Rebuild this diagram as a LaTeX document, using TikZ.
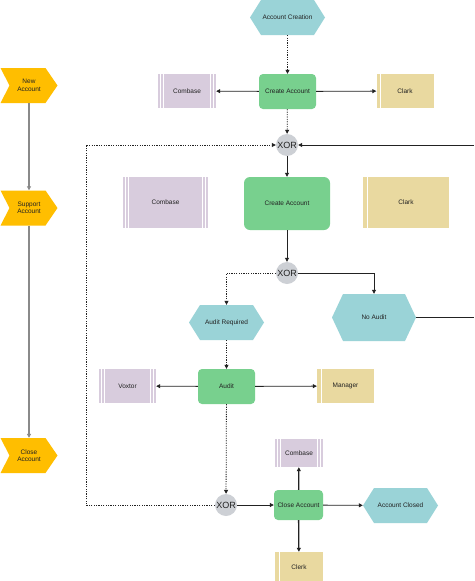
\documentclass[tikz,border=0pt]{standalone}
\usepackage{fontspec}
\setmainfont{Liberation Sans}
\usetikzlibrary{positioning,arrows.meta}

\definecolor{evcol}{HTML}{9AD3D7}
\definecolor{fncol}{HTML}{78D08E}
\definecolor{syscol}{HTML}{D8CCDD}
\definecolor{orgcol}{HTML}{E9D9A0}
\definecolor{pathcol}{HTML}{FFBE00}
\definecolor{xorcol}{HTML}{CDD0D5}
\definecolor{linecol}{HTML}{222222}
\definecolor{lanecol}{HTML}{8A8A8A}

\tikzset{
  every node/.style={font=\fontsize{6.5}{7.5}\selectfont, inner sep=0pt, align=center, text=linecol},
  event/.style={minimum width=75pt, minimum height=35pt, path picture={
      \fill[evcol] (path picture bounding box.west)
        -- ([xshift=11pt]path picture bounding box.north west)
        -- ([xshift=-11pt]path picture bounding box.north east)
        -- (path picture bounding box.east)
        -- ([xshift=-11pt]path picture bounding box.south east)
        -- ([xshift=11pt]path picture bounding box.south west) -- cycle;}},
  function/.style={fill=fncol, rounded corners=4pt, minimum width=57pt, minimum height=35pt},
  sysbox/.style={fill=syscol, minimum width=58pt, minimum height=34pt, path picture={
      \foreach \dx in {2.5pt,5.5pt}{
        \draw[white, line width=0.6pt] ([xshift=\dx]path picture bounding box.north west)
          -- ([xshift=\dx]path picture bounding box.south west);
        \draw[white, line width=0.6pt] ([xshift=-\dx]path picture bounding box.north east)
          -- ([xshift=-\dx]path picture bounding box.south east);}}},
  orgbox/.style={fill=orgcol, minimum width=57pt, minimum height=34pt, path picture={
      \draw[white, line width=0.8pt] ([xshift=4pt]path picture bounding box.north west)
        -- ([xshift=4pt]path picture bounding box.south west);}},
  pathbox/.style={minimum width=57pt, minimum height=35pt, path picture={
      \fill[pathcol] (path picture bounding box.north west)
        -- ([xshift=-12pt]path picture bounding box.north east)
        -- (path picture bounding box.east)
        -- ([xshift=-12pt]path picture bounding box.south east)
        -- (path picture bounding box.south west)
        -- ([xshift=9pt]path picture bounding box.west) -- cycle;}},
  xor/.style={circle, fill=xorcol, minimum size=22pt, font=\fontsize{9}{10}\selectfont},
  flow/.style={draw=linecol, line width=0.8pt, -{Triangle[length=4pt,width=4pt]}},
  ctrl/.style={flow, dash pattern=on 1.2pt off 1.2pt},
  lane/.style={draw=lanecol, line width=1.3pt, -{Triangle[length=4pt,width=4pt,fill=linecol]}}
}

\begin{document}
\begin{tikzpicture}[x=1pt, y=-1pt]
  \useasboundingbox[fill=white] (0,0) rectangle (474,581);

  \node[pathbox] (newacc) at (29,85.5) {New\\Account};
  \node[pathbox] (supacc) at (29,208) {Support\\Account};
  \node[pathbox] (cloacc) at (29,455.5) {Close\\Account};

  \node[event] (accreat) at (287.5,17.5) {Account Creation};
  \node[function] (create1) at (287.5,91.5) {Create Account};
  \node[sysbox] (combase1) at (187,91) {Combase};
  \node[orgbox] (clark1) at (405,91) {Clark};
  \node[xor] (xor1) at (287,145) {XOR};

  \node[sysbox, minimum width=85pt, minimum height=51pt] (combase2) at (165.5,202.5) {Combase};
  \node[function, minimum width=86pt, minimum height=53pt, rounded corners=6pt] (create2) at (287,203.5) {Create Account};
  \node[orgbox, minimum width=86pt, minimum height=51pt] (clark2) at (406,202.5) {Clark};
  \node[xor] (xor2) at (287,273) {XOR};

  \node[event] (auditreq) at (226.5,322.5) {Audit Required};
  \node[event, minimum width=84pt, minimum height=47pt] (noaudit) at (374,317.5) {No Audit};
  \node[function] (audit) at (226.5,386.5) {Audit};
  \node[sysbox, minimum width=57pt] (voxtor) at (127.5,386) {Voxtor};
  \node[orgbox] (manager) at (345.5,386) {Manager};
  \node[xor] (xor3) at (226,505) {XOR};

  \node[function, minimum width=49pt, minimum height=30pt] (close) at (298.5,505) {Close Account};
  \node[sysbox, minimum width=48pt, minimum height=28pt] (combase3) at (299,453) {Combase};
  \node[orgbox, minimum width=48pt, minimum height=30pt] (clerk) at (299,567) {Clerk};
  \node[event] (closed) at (400.5,505.5) {Account Closed};

  \coordinate (loopin) at (474,145);
  \coordinate (loopout) at (474,317.5);
  \coordinate (back) at (86,505);

  \draw[lane] (newacc) -- (supacc);
  \draw[lane] (supacc) -- (cloacc);

  \draw[ctrl] (accreat) -- (create1);
  \draw[flow] (create1) -- (combase1);
  \draw[flow] (create1) -- (clark1);
  \draw[ctrl] (create1) -- (xor1);
  \draw[flow] (loopin) -- (xor1);
  \draw[flow] (xor1) -- (create2);
  \draw[flow] (create2) -- (xor2);
  \draw[ctrl] (xor2) -| (auditreq);
  \draw[flow] (xor2) -| (noaudit);
  \draw[draw=linecol, line width=0.8pt] (noaudit) -- (loopout);
  \draw[ctrl] (auditreq) -- (audit);
  \draw[flow] (audit) -- (voxtor);
  \draw[flow] (audit) -- (manager);
  \draw[ctrl] (audit) -- (xor3);
  \draw[ctrl] (xor3) -- (back) |- (xor1);
  \draw[flow] (xor3) -- (close);
  \draw[flow, line width=1.3pt] (close) -- (combase3);
  \draw[flow, line width=1.3pt] (close) -- (clerk);
  \draw[flow] (close) -- (closed);
\end{tikzpicture}
\end{document}
